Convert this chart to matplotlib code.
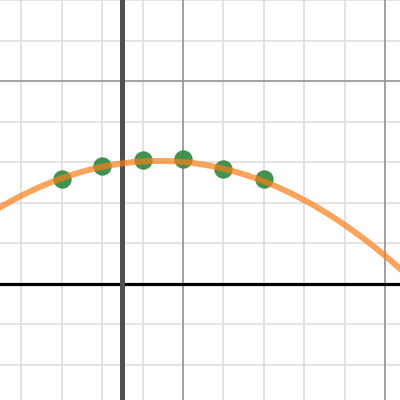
import numpy as np
import matplotlib
matplotlib.use("Agg")
import matplotlib.pyplot as plt

# data points (green)
pts_x = [-3, -2, -1, 0, 1, 2]
pts_y = [2.59, 2.91, 3.05, 3.08, 2.82, 2.59]

# fitted parabola y = a x^2 + b x + c (orange)
coef_a = -0.0745
coef_b = -0.090
coef_c = 3.00

# vertical marker line
vline_x = -1.52

fig = plt.figure(figsize=(4, 4), dpi=100)
ax = fig.add_axes([0, 0, 1, 1])
ax.set_axis_off()
x0, x1 = -183 / 40.4, 217 / 40.4
y0, y1 = -116.5 / 40.5, 283.5 / 40.5

# grid: minor every 1, major every 5
for g in range(-5, 7):
    major = g % 5 == 0
    ax.axvline(g, color='#9a9a9a' if major else '#e0e0e0', lw=1.3, zorder=0.5 if major else 0)
for g in range(-3, 8):
    major = g % 5 == 0
    ax.axhline(g, color='#9a9a9a' if major else '#e0e0e0', lw=1.3, zorder=0.5 if major else 0)

ax.axhline(0, color='black', lw=2.3, zorder=2)
ax.axvline(vline_x, color='#505050', lw=3.6, zorder=2)

ax.scatter(pts_x, pts_y, s=175, color='#388c46', alpha=0.95, lw=0, zorder=3)

xs = np.linspace(-6, 7, 400)
ax.plot(xs, coef_a * xs**2 + coef_b * xs + coef_c,
        color='#fa7e19', alpha=0.7, lw=4.3, zorder=4)

ax.set_xlim(x0, x1)
ax.set_ylim(y0, y1)
fig.savefig('out.png', dpi=100)
